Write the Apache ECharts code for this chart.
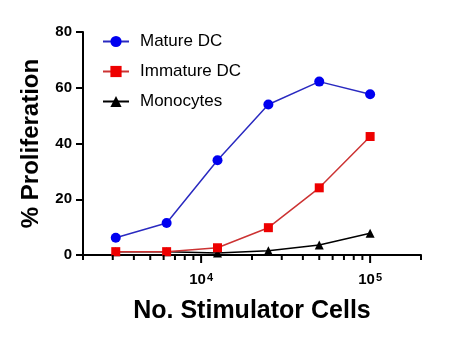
<!DOCTYPE html>
<html>
<head>
<meta charset="utf-8">
<script src="https://cdn.jsdelivr.net/npm/echarts@6/dist/echarts.min.js"></script>
<style>
  html, body { margin: 0; padding: 0; background: #fff; }
  #chart { width: 474px; height: 339px; }
</style>
</head>
<body>
<div id="chart"></div>
<script>
// Number of stimulator cells per well (log scale)
const cellCounts = [3125, 6250, 12500, 25000, 50000, 100000];

// % proliferation for each stimulator type
const matureDC = [6.2, 11.5, 34.0, 54.0, 62.2, 57.7];
const immatureDC = [1.2, 1.2, 2.6, 9.8, 24.1, 42.5];
const monocytes = [1.2, 1.2, 0.7, 1.5, 3.6, 7.8];

// Axis ticks
const xMajorTicks = [10000, 100000];
const xMinorTicks = [2000, 3000, 4000, 5000, 6000, 7000, 8000, 9000,
  20000, 30000, 40000, 50000, 60000, 70000, 80000, 90000, 200000];

const FONT = "'Liberation Sans', Arial, sans-serif";

const pairs = vals => cellCounts.map((c, i) => [c, vals[i]]);

// Tick marks hanging below the log x axis, placed through the axis scale
function tickSeries(values, len) {
  return {
    type: 'custom',
    silent: true,
    clip: false,
    z: 5,
    data: values.map(v => [v, 0]),
    renderItem: (params, api) => {
      const p = api.coord([api.value(0), 0]);
      return {
        type: 'line',
        shape: { x1: p[0], y1: p[1], x2: p[0], y2: p[1] + len },
        style: { stroke: '#000', lineWidth: 2 }
      };
    }
  };
}

const chart = echarts.init(document.getElementById('chart'), null, { renderer: 'canvas' });

chart.setOption({
  animation: false,
  backgroundColor: '#fff',
  grid: { left: 83, right: 53, top: 32, bottom: 84, containLabel: false },
  legend: {
    orient: 'vertical',
    left: 97,
    top: 28,
    itemWidth: 26,
    itemHeight: 14,
    itemGap: 13,
    textStyle: { fontFamily: FONT, fontSize: 17, color: '#000', padding: [0, 0, 0, 6] },
    data: ['Mature DC', 'Immature DC', 'Monocytes']
  },
  xAxis: {
    type: 'log',
    logBase: 10,
    min: 2000,
    max: 200000,
    name: 'No. Stimulator Cells',
    nameLocation: 'middle',
    nameGap: 44,
    nameTextStyle: { fontFamily: FONT, fontSize: 25, fontWeight: 'bold', color: '#000' },
    axisLine: { show: true, lineStyle: { color: '#000', width: 2 } },
    axisTick: { show: false },
    minorTick: { show: false },
    splitLine: { show: false },
    axisLabel: {
      show: true,
      customValues: xMajorTicks,
      margin: 17,
      formatter: v => '{b|10}{s|' + Math.round(Math.log10(v)) + '}',
      rich: {
        b: { fontFamily: FONT, fontSize: 15, fontWeight: 'bold', color: '#000' },
        s: { fontFamily: FONT, fontSize: 11, fontWeight: 'bold', color: '#000', verticalAlign: 'top', padding: [0, 0, 0, 1] }
      }
    }
  },
  yAxis: {
    type: 'value',
    min: 0,
    max: 80,
    interval: 20,
    name: '% Proliferation',
    nameLocation: 'middle',
    nameGap: 40,
    nameTextStyle: { fontFamily: FONT, fontSize: 24, fontWeight: 'bold', color: '#000' },
    axisLine: { show: true, lineStyle: { color: '#000', width: 2 } },
    axisTick: { show: true, length: 7, lineStyle: { color: '#000', width: 2 } },
    axisLabel: { fontFamily: FONT, fontSize: 15, fontWeight: 'bold', color: '#000', margin: 11 },
    splitLine: { show: false }
  },
  series: [
    {
      name: 'Mature DC',
      type: 'line',
      data: pairs(matureDC),
      symbol: 'circle',
      symbolSize: 10,
      itemStyle: { color: '#0000f0' },
      lineStyle: { color: '#2a2ac0', width: 1.5 }
    },
    {
      name: 'Immature DC',
      type: 'line',
      data: pairs(immatureDC),
      symbol: 'rect',
      symbolSize: 9,
      itemStyle: { color: '#ee0000' },
      lineStyle: { color: '#cc3333', width: 1.5 }
    },
    {
      name: 'Monocytes',
      type: 'line',
      z: 1,
      data: pairs(monocytes),
      symbol: 'triangle',
      symbolSize: 9,
      itemStyle: { color: '#000' },
      lineStyle: { color: '#000', width: 1.5 }
    },
    tickSeries(xMinorTicks, 5),
    tickSeries(xMajorTicks, 8)
  ]
});
</script>
</body>
</html>
